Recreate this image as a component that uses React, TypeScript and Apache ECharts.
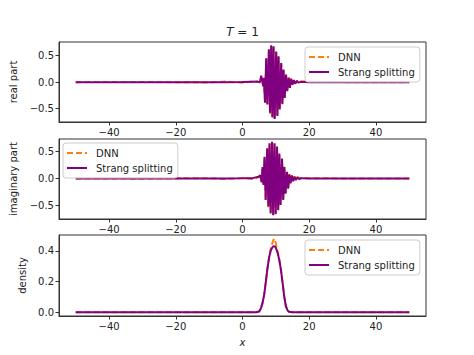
import React, { useEffect, useRef } from "react";
import * as echarts from "echarts";

const FONT = "DejaVu Sans";

const xTicks = [-40, -20, 0, 20, 40];
const waveTicks = [-0.5, 0, 0.5];
const densityTicks = [0, 0.2, 0.4];

const xReal = [-50, -30, -10, -5, 0, 3, 4.5, 5.2, 5.6, 6.0, 6.3, 6.4, 6.75, 7.1, 7.45, 7.9, 8.25, 8.6, 8.95, 9.3, 9.65, 10.1, 10.45, 10.8, 11.15, 11.6, 11.95, 12.3, 12.65, 13.05, 13.4, 13.85, 14.2, 14.6, 15.0, 15.4, 15.8, 16.3, 16.8, 17.5, 20, 30, 50];
const realStrang = [0, 0, 0, 0, 0.003, 0.008, 0.01, 0.0, 0.12, -0.02, -0.08, 0.08, -0.39, 0.45, -0.42, 0.62, -0.58, 0.70, -0.67, 0.68, -0.70, 0.58, -0.64, 0.49, -0.52, 0.36, -0.42, 0.24, -0.30, 0.14, -0.17, 0.08, -0.11, 0.06, -0.05, 0.04, -0.03, 0.02, -0.01, 0.005, 0, 0, 0];
const realDnn = [0, 0.004, -0.006, 0.01, -0.01, 0.012, 0.006, -0.01, 0.1, -0.03, -0.07, 0.07, -0.37, 0.44, -0.43, 0.6, -0.6, 0.68, -0.66, 0.67, -0.69, 0.57, -0.62, 0.48, -0.5, 0.35, -0.41, 0.23, -0.29, 0.15, -0.16, 0.09, -0.1, 0.07, -0.04, 0.05, -0.02, 0.03, -0.005, 0.012, 0.008, 0, 0];

const xImag = [-50, -30, -10, -5, 0, 3, 4.8, 5.3, 5.75, 6.0, 6.3, 6.6, 6.95, 7.4, 7.75, 8.1, 8.45, 8.85, 9.2, 9.6, 9.95, 10.35, 10.7, 11.05, 11.4, 11.85, 12.2, 12.55, 12.9, 13.35, 13.7, 14.05, 14.4, 14.8, 15.2, 15.6, 16.0, 16.5, 17.0, 17.6, 20, 30, 50];
const imagStrang = [0, 0, 0, 0, 0.002, 0.006, 0.03, 0.06, -0.07, 0.21, -0.12, 0.40, -0.40, 0.56, -0.52, 0.65, -0.65, 0.68, -0.68, 0.65, -0.66, 0.59, -0.59, 0.46, -0.49, 0.37, -0.40, 0.21, -0.28, 0.12, -0.19, 0.07, -0.09, 0.05, -0.05, 0.03, -0.03, 0.02, -0.01, 0.005, 0, 0, 0];
const imagDnn = [0, -0.004, 0.006, -0.01, 0.01, -0.01, 0.02, 0.05, -0.06, 0.2, -0.13, 0.39, -0.41, 0.55, -0.53, 0.64, -0.64, 0.67, -0.67, 0.64, -0.65, 0.58, -0.58, 0.45, -0.48, 0.36, -0.39, 0.22, -0.27, 0.13, -0.18, 0.08, -0.08, 0.06, -0.04, 0.04, -0.02, 0.03, -0.005, 0.01, 0.006, 0, 0];

const xDensity = [-50, -20, 0, 4, 5, 5.5, 6, 6.5, 7, 7.5, 8, 8.5, 9, 9.25, 9.5, 9.75, 10, 10.5, 11, 11.5, 12, 12.5, 13, 13.5, 14, 15, 20, 50];
const densityStrang = [0, 0, 0, 0.001, 0.005, 0.025, 0.06, 0.115, 0.2, 0.29, 0.36, 0.405, 0.425, 0.43, 0.43, 0.428, 0.42, 0.39, 0.345, 0.28, 0.195, 0.105, 0.04, 0.012, 0.003, 0, 0, 0];
const densityDnn = [0, 0, 0, 0.001, 0.005, 0.025, 0.06, 0.115, 0.2, 0.29, 0.365, 0.42, 0.455, 0.47, 0.48, 0.47, 0.45, 0.4, 0.345, 0.28, 0.195, 0.105, 0.04, 0.012, 0.003, 0, 0, 0];

const yNames = ["real part", "imaginary part", "density"];
const seriesNames = ["DNN", "Strang splitting"];

const pairs = (xs: number[], ys: number[]) => xs.map((x, i) => [x, ys[i]]);
const fmt = (v: number) => {
  const n = Math.abs(v) < 1e-9 ? 0 : v;
  return (n < 0 ? "\u2212" : "") + Math.abs(n).toFixed(1);
};

export default function App() {
  const ref = useRef<HTMLDivElement>(null);
  useEffect(() => {
    if (!ref.current) return;
    const chart = echarts.init(ref.current, undefined, { renderer: "svg" });
    const grids = [
      { left: 59, top: 42, width: 367, height: 80 },
      { left: 59, top: 139, width: 367, height: 80 },
      { left: 59, top: 235, width: 367, height: 81 },
    ].map((g) => ({ ...g, show: true, borderColor: "#333", borderWidth: 1, containLabel: false, outerBoundsMode: "none" }));

    const xFmt = (v: number) => (v < 0 ? "\u2212" : "") + Math.abs(v).toFixed(0);
    const xAxes = [0, 1, 2].map((i) => ({
      type: "value",
      gridIndex: i,
      min: -55,
      max: 55,
      splitLine: { show: false },
      axisLine: { show: true, onZero: false, lineStyle: { color: "#333", width: 1 } },
      axisTick: { show: true, customValues: xTicks, length: 3.5, lineStyle: { color: "#333" } },
      axisLabel: { customValues: xTicks, formatter: xFmt, margin: 5, fontSize: 10, color: "#222", fontFamily: FONT },
    }));

    const yLims = [
      [-0.755, 0.76],
      [-0.75, 0.73],
      [-0.024, 0.504],
    ];
    const yTicks = [waveTicks, waveTicks, densityTicks];
    const gaps = [37, 37, 27];
    const yAxes = [0, 1, 2].map((i) => ({
      type: "value",
      gridIndex: i,
      min: yLims[i][0],
      max: yLims[i][1],
      name: yNames[i],
      nameLocation: "middle",
      nameRotate: 90,
      nameGap: gaps[i],
      nameTextStyle: { fontSize: 10, color: "#222", fontFamily: FONT },
      splitLine: { show: false },
      axisLine: { show: true, onZero: false, lineStyle: { color: "#333", width: 1 } },
      axisTick: { show: true, customValues: yTicks[i], length: 3.5, lineStyle: { color: "#333" } },
      axisLabel: { customValues: yTicks[i], formatter: (v: number) => fmt(v), margin: 5, fontSize: 10, color: "#222", fontFamily: FONT },
    }));

    const dnnData = [pairs(xReal, realDnn), pairs(xImag, imagDnn), pairs(xDensity, densityDnn)];
    const strangData = [pairs(xReal, realStrang), pairs(xImag, imagStrang), pairs(xDensity, densityStrang)];
    const series: any[] = [];
    [0, 1, 2].forEach((i) => {
      series.push({
        type: "line",
        name: seriesNames[0],
        xAxisIndex: i,
        yAxisIndex: i,
        data: dnnData[i],
        symbol: "none",
        lineStyle: { color: "#ff7f0e", width: 2, type: [6, 3] },
        itemStyle: { color: "#ff7f0e" },
        z: 2,
      });
      series.push({
        type: "line",
        name: seriesNames[1],
        xAxisIndex: i,
        yAxisIndex: i,
        data: strangData[i],
        symbol: "none",
        lineStyle: { color: "#800080", width: 2 },
        itemStyle: { color: "#800080" },
        z: 3,
      });
    });

    const legendPos = [
      { left: 305, top: 47 },
      { left: 63, top: 143 },
      { left: 305, top: 240 },
    ];
    const legends = legendPos.map((p) => ({
      ...p,
      orient: "vertical",
      data: seriesNames,
      selectedMode: false,
      itemWidth: 20,
      itemHeight: 10,
      itemGap: 5,
      padding: [5, 5, 5, 3],
      backgroundColor: "rgba(255,255,255,0.8)",
      borderColor: "#ccc",
      borderWidth: 1,
      borderRadius: 3,
      itemStyle: { opacity: 0 },
      textStyle: { fontSize: 10, color: "#222", fontFamily: FONT, padding: [0, 0, 0, 4] },
    }));

    chart.setOption({
      animation: false,
      backgroundColor: "#fff",
      textStyle: { fontFamily: FONT },
      grid: grids,
      xAxis: xAxes,
      yAxis: yAxes,
      legend: legends,
      series,
      graphic: [
        {
          type: "text",
          x: 242.5,
          y: 32,
          style: {
            text: "{i|T} = 1",
            fontSize: 12,
            fontFamily: FONT,
            fill: "#222",
            align: "center",
            verticalAlign: "middle",
            rich: { i: { fontStyle: "italic", fontSize: 12, fontFamily: FONT, fill: "#222" } },
          },
        },
        {
          type: "text",
          x: 242.5,
          y: 342,
          style: {
            text: "x",
            fontSize: 10,
            fontStyle: "italic",
            fontFamily: FONT,
            fill: "#222",
            align: "center",
            verticalAlign: "middle",
          },
        },
      ],
    } as any);
    return () => chart.dispose();
  }, []);
  return <div ref={ref} style={{ position: "fixed", left: 0, top: 0, width: 474, height: 355 }} />;
}
